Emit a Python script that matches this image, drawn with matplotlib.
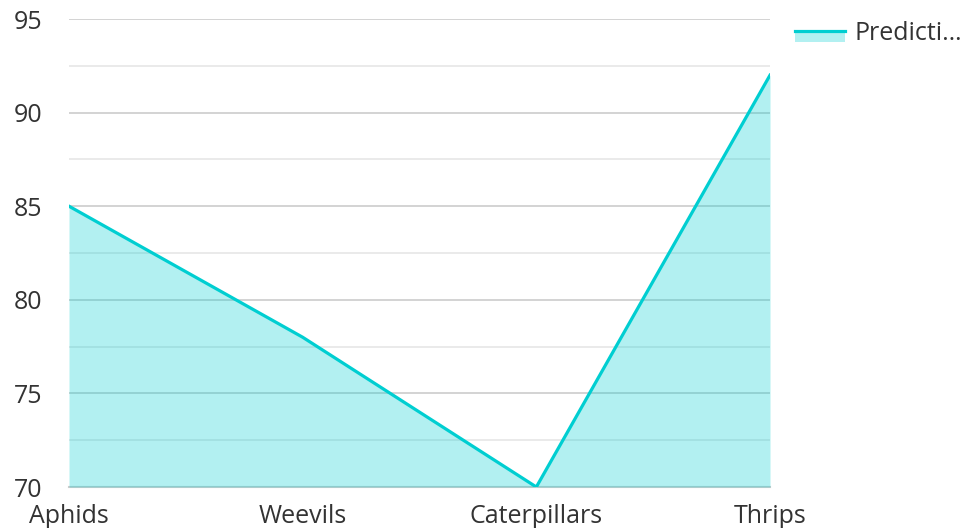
import matplotlib.pyplot as plt
from matplotlib.lines import Line2D
from matplotlib.patches import Patch, Rectangle
from matplotlib.legend_handler import HandlerPatch
import numpy as np

categories = ["Aphids", "Weevils", "Caterpillars", "Thrips"]
prediction = [85, 78, 70, 92]
series_label = "Predicti…"

plt.rcParams['font.family'] = ['Open Sans', 'DejaVu Sans']

line_color = "#00CED1"
text_color = "#333333"


def patch_below_line(legend, orig_handle, xdescent, ydescent, width, height, fontsize):
    # area swatch hangs under the line, like the reference legend
    mid = height / 2 - ydescent
    return Rectangle((-xdescent, mid - 0.6 * height), width, 0.6 * height)


fig = plt.figure(figsize=(9.62, 5.28), dpi=100)
ax = fig.add_axes([69 / 962, 1 - 487 / 528, (770 - 69) / 962, (487 - 19) / 528])

x = np.arange(len(categories))
ax.fill_between(x, prediction, 70, color=line_color, alpha=0.3, lw=0, zorder=3)
ax.plot(x, prediction, color=line_color, lw=2.3, zorder=4)

ax.set_xlim(0, len(categories) - 1)
ax.set_ylim(70, 95)
ax.set_yticks(np.arange(70, 96, 5))
ax.set_yticks(np.arange(72.5, 95, 5), minor=True)
ax.set_xticks(x)
ax.set_xticklabels(categories)

ax.grid(axis='y', which='major', color='#cccccc', lw=1.2, zorder=1)
ax.grid(axis='y', which='minor', color='#e6e6e6', lw=1.2, zorder=1)
ax.grid(axis='x', visible=False)
ax.axhline(70, color='#cccccc', lw=1.5, zorder=2, clip_on=False)

for s in ax.spines.values():
    s.set_visible(False)

ax.tick_params(axis='both', which='both', length=0, labelsize=18, labelcolor=text_color)
ax.tick_params(axis='y', pad=19)
ax.tick_params(axis='x', pad=12)

area = Patch(facecolor=line_color, alpha=0.3, edgecolor='none')
handle = (area, Line2D([], [], color=line_color, lw=2.3))
fig.legend([handle], [series_label], loc='upper left',
           bbox_to_anchor=(795 / 962, 1 - 21 / 528), bbox_transform=fig.transFigure,
           frameon=False, fontsize=18, labelcolor=text_color, handlelength=2.0,
           handletextpad=0.4, borderaxespad=0, borderpad=0,
           handler_map={area: HandlerPatch(patch_func=patch_below_line)})

fig.savefig("out.png", dpi=100)
